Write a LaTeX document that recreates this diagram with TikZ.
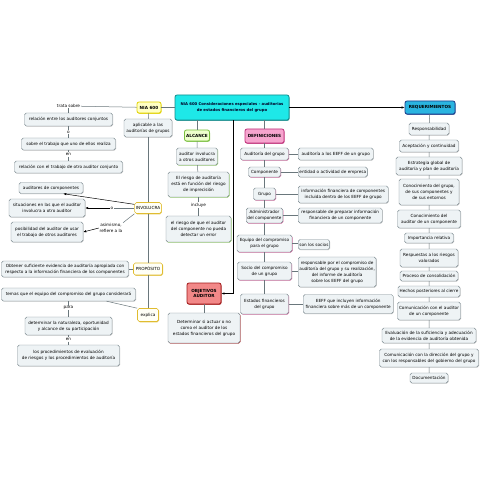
\documentclass[tikz,border=0pt]{standalone}
\usepackage{fontspec}
\setmainfont{DejaVu Sans}
\usetikzlibrary{shadows,arrows.meta}
\definecolor{boxfill}{HTML}{EEF3F5}
\definecolor{boxline}{HTML}{7C8A90}
\definecolor{linecol}{HTML}{6A777C}
\definecolor{titlefill}{HTML}{1EE8E8}
\definecolor{titleline}{HTML}{138C8C}
\definecolor{reqfill}{HTML}{2AB4E0}
\definecolor{reqline}{HTML}{1B3F8C}
\definecolor{niafill}{HTML}{FFFFC4}
\definecolor{nialine}{HTML}{E2D200}
\definecolor{alcfill}{HTML}{EEFFCC}
\definecolor{alcline}{HTML}{78BE3C}
\definecolor{deffill}{HTML}{F6A4CE}
\definecolor{defline}{HTML}{C0307A}
\definecolor{objfill}{HTML}{F28888}
\definecolor{objline}{HTML}{A01818}
\definecolor{linkfill}{HTML}{FFFFF6}
\definecolor{linkline}{HTML}{E0BC30}
\begin{document}
\begin{tikzpicture}[x=1pt,y=-1pt,
  font=\fontsize{4.2}{5.9}\selectfont,
  box/.style={draw=boxline, fill=boxfill, rounded corners=1.8pt, line width=0.45pt,
    align=center, inner sep=1.2pt,
    drop shadow={shadow xshift=0.5pt, shadow yshift=-0.7pt, fill=#1, opacity=0.8}},
  box/.default=gray!55,
  mainbox/.style={draw=#1, rounded corners=2pt, line width=0.8pt, align=center,
    inner sep=1.2pt, font=\fontsize{4.2}{5.9}\selectfont\bfseries,
    drop shadow={shadow xshift=0.5pt, shadow yshift=-0.8pt, fill=#1, opacity=0.8}},
  linkbox/.style={draw=linkline, fill=linkfill, rounded corners=1.8pt, line width=0.6pt,
    align=center, inner sep=1.2pt,
    drop shadow={shadow xshift=0.6pt, shadow yshift=-0.8pt, fill=linkline, opacity=0.8}},
  lbl/.style={fill=white, inner sep=0.6pt, align=center},
  conn/.style={draw=linecol, line width=0.5pt},
  arr/.style={draw=linecol, line width=0.5pt, -{Latex[length=3pt,width=2.4pt]}, black}
]
\useasboundingbox[fill=white] (0,0) rectangle (481,481);

% main nodes
\node[mainbox=nialine, fill=niafill, minimum width=24pt, minimum height=11pt] (nia) at (149,107.5) {NIA 600};
\node[mainbox=titleline, fill=titlefill, minimum width=114pt, minimum height=25pt,
  font=\fontsize{3.8}{5.6}\selectfont\bfseries, text=black!85!blue] (title) at (232,107.5)
  {NIA 600 Consideraciones especiales - auditorias\\de estados financieros del grupo};
\node[mainbox=reqline, fill=reqfill, minimum width=50pt, minimum height=13pt] (req) at (430,107.5) {REQUERIMIENTOS};

% left column
\node[lbl] (trata) at (68.5,106) {trata sobre};
\node[box, minimum width=88pt, minimum height=13pt] (rel1) at (68.5,119.5) {relación entre los auditores conjuntos};
\node[lbl] (o1) at (68.5,132) {o};
\node[box, minimum width=94pt, minimum height=12pt] (rel2) at (68.5,144) {sobre el trabajo que uno de ellos realiza};
\node[lbl] (en1) at (68.5,154.5) {en};
\node[box, minimum width=108pt, minimum height=12pt] (rel3) at (68.5,167) {relación con el trabajo de otro auditor conjunto};

\node[box, minimum width=48pt, minimum height=18pt] (aplic) at (148,128) {aplicable a las\\auditorías de grupos};
\node[linkbox, minimum width=26pt, minimum height=11pt] (invol) at (148,208) {INVOLUCRA};
\node[box, minimum width=64pt, minimum height=11pt] (audc) at (51,188) {auditores de componentes};
\node[box, minimum width=76pt, minimum height=18pt] (sit) at (47,208) {situaciones en las que el auditor\\involucra a otro auditor};
\node[box, minimum width=72pt, minimum height=20pt] (pos) at (47,232) {posibilidad del auditor de usar\\el trabajo de otros auditores};
\node[lbl] (o2) at (112,208) {o};
\node[lbl] (asim) at (111,228) {asimismo,\\refiere a la};

\node[linkbox, minimum width=29pt, minimum height=12pt] (prop) at (148,269) {PROPÓSITO};
\node[box, minimum width=127pt, minimum height=16pt] (obt) at (65,269) {Obtener suficiente evidencia de auditoría apropiada con\\respecto a la información financiera de los componentes};

\node[box, minimum width=134pt, minimum height=13pt] (temas) at (68.5,294.5) {temas que el equipo del compromiso del grupo considerará};
\node[linkbox, minimum width=21pt, minimum height=13pt] (expl) at (148,315) {explica};
\node[lbl] (para) at (68.5,308) {para};
\node[box, minimum width=87pt, minimum height=18pt] (det) at (68.5,326) {determinar la naturaleza, oportunidad\\y alcance de su participación};
\node[lbl] (en2) at (68.5,339.5) {en};
\node[box, minimum width=102pt, minimum height=21pt] (procs) at (68.5,355.5) {los procedimientos de evaluación\\de riesgos y los procedimientos de auditoría};

% alcance
\node[mainbox=alcline, fill=alcfill, minimum width=25pt, minimum height=11pt] (alc) at (197,135.5) {ALCANCE};
\node[box=alcline, minimum width=41pt, minimum height=17pt] (alc1) at (197,156.5) {auditor involucra\\a otros auditores};
\node[box=alcline, minimum width=61pt, minimum height=25pt] (alc2) at (198.5,184.5) {El riesgo de auditoría\\está en función del riesgo\\de imprecisión};
\node[lbl] (incl) at (198.5,205) {incluye};
\node[box=alcline, minimum width=65pt, minimum height=26pt] (alc3) at (198.5,229) {el riesgo de que el auditor\\del componente no pueda\\detectar un error};

% objetivos
\node[mainbox=objline, fill=objfill, minimum width=34pt, minimum height=21pt] (obj) at (204,293.5) {OBJETIVOS\\AUDITOR};
\node[box=objline, minimum width=72pt, minimum height=30pt] (obj1) at (204,328) {Determinar si actuar o no\\como el auditor de los\\estados financieros del grupo};
\coordinate (ox) at (233,120);

% definiciones
\node[mainbox=defline, fill=deffill, minimum width=39pt, minimum height=14pt] (def) at (264.5,136) {DEFINICIONES};
\node[box=defline, minimum width=48pt, minimum height=12pt] (d1) at (264.5,154) {Auditoría del grupo};
\node[box=defline, minimum width=32pt, minimum height=10pt] (d2) at (264.5,172) {Componente};
\node[box=defline, minimum width=22pt, minimum height=12pt] (d3) at (264.5,194) {Grupo};
\node[box=defline, minimum width=35pt, minimum height=15pt] (d4) at (264.5,215.5) {Administrador\\del componente};
\node[box=defline, minimum width=55pt, minimum height=17pt] (d5) at (264.5,243.5) {Equipo del compromiso\\para el grupo};
\node[box=defline, minimum width=54pt, minimum height=18pt] (d6) at (264.5,271) {Socio del compromiso\\de un grupo};
\node[box=defline, minimum width=48pt, minimum height=20pt] (d7) at (264.5,304) {Estados financieros\\del grupo};

\node[box, anchor=west, minimum width=75pt, minimum height=12pt] (e1) at (298,154) {auditoría a los EEFF de un grupo};
\node[box, anchor=west, minimum width=67pt, minimum height=10pt] (e2) at (298,172) {entidad o actividad de empresa};
\node[box, anchor=west, minimum width=90pt, minimum height=17pt] (e3) at (298,194.5) {información financiera de componentes\\incluida dentro de los EEFF de grupo};
\node[box, anchor=west, minimum width=84pt, minimum height=15pt] (e4) at (298,215.5) {responsable de preparar información\\financiera de un componente};
\node[box, anchor=west, minimum width=24pt, minimum height=10pt] (e5) at (298,244.5) {son los socios};
\node[box, anchor=west, minimum width=74pt, minimum height=30pt] (e6) at (298,272) {responsable por el compromiso de\\auditoría del grupo y su realización,\\del informe de auditoría\\sobre los EEFF del grupo};
\node[box, anchor=west, minimum width=90pt, minimum height=19pt] (e7) at (303,304) {EEFF que incluyen información\\financiera sobre más de un componente};

% requerimientos
\node[box, minimum width=40pt, minimum height=12pt] (r1) at (429,129) {Responsabilidad};
\node[box, minimum width=59pt, minimum height=12pt] (r2) at (429,146) {Aceptación y continuidad};
\node[box, minimum width=66pt, minimum height=18pt] (r3) at (429,166) {Estrategia global de\\auditoría y plan de auditoría};
\node[box, minimum width=60pt, minimum height=26pt] (r4) at (429,192) {Conocimiento del grupo,\\de sus componentes y\\de sus entornos};
\node[box, minimum width=63pt, minimum height=18pt] (r5) at (429,219) {Conocimiento del\\auditor de un componente};
\node[box, minimum width=49pt, minimum height=10pt] (r6) at (429,238) {Importancia relativa};
\node[box, minimum width=58pt, minimum height=18pt] (r7) at (429,258) {Respuestas a los riesgos\\valorados};
\node[box, minimum width=58pt, minimum height=10pt] (r8) at (429,276) {Proceso de consolidación};
\node[box, minimum width=62pt, minimum height=11pt] (r9) at (429,291.5) {Hechos posteriores al cierre};
\node[box, minimum width=63pt, minimum height=18pt] (r10) at (429,311) {Comunicación con el auditor\\de un componente};
\node[box, minimum width=94pt, minimum height=15pt] (r11) at (429,335.5) {Evaluación de la suficiencia y adecuación\\de la evidencia de auditoría obtenida};
\node[box, minimum width=99pt, minimum height=18pt] (r12) at (429,358) {Comunicación con la dirección del grupo y\\con los responsables del gobierno del grupo};
\node[box, minimum width=38pt, minimum height=10pt] (r13) at (429,378) {Documentación};

% connectors
\draw[conn] (nia) -- (trata);
\draw[conn] (trata) -- (rel1) -- (o1) -- (rel2) -- (en1) -- (rel3);
\draw[conn] (nia) -- (title);
\draw[conn] (nia) -- (aplic);
\draw[conn] (aplic) -- (invol);
\draw[conn] (invol) -- (prop);
\draw[conn] (prop) -- (expl);
\draw[arr] (invol.165) -- (audc.-25);
\draw[conn] (invol) -- (o2);
\draw[arr] (o2) -- (sit);
\draw[conn] (invol.south west) -- (asim.north east);
\draw[arr] (asim.west) -- (pos.east);
\draw[conn] (prop) -- (obt);
\draw[conn] (expl.north west) -- (temas.-10);
\draw[conn] (temas) -- (para) -- (det) -- (en2) -- (procs);

\draw[conn] (title.south -| alc) -- (alc);
\draw[conn] (alc) -- (alc1) -- (alc2);
\draw[conn] (alc2.south -| incl) -- (incl) -- (alc3);
\draw[arr] (title.south -| ox) |- (obj.east);
\draw[conn] (obj) -- (obj1);

\draw[conn] (title.south -| def) -- (def);
\draw[conn] (def) -- (d1) -- (d2) -- (d3) -- (d4) -- (d5) -- (d6) -- (d7);
\draw[conn] (d1) -- (e1);
\draw[conn] (d2) -- (e2);
\draw[conn] (d3) -- (d3 -| e3.west);
\draw[conn] (d4) -- (d4 -| e4.west);
\draw[conn] (d5) -- (d5 -| e5.west);
\draw[conn] (d6) -- (d6 -| e6.west);
\draw[conn] (d7) -- (d7 -| e7.west);

\draw[arr] (title) -- (req);
\draw[conn] (req) -- (r1) -- (r2) -- (r3) -- (r4) -- (r5) -- (r6) -- (r7) -- (r8) -- (r9) -- (r10) -- (r11) -- (r12) -- (r13);
\end{tikzpicture}
\end{document}
